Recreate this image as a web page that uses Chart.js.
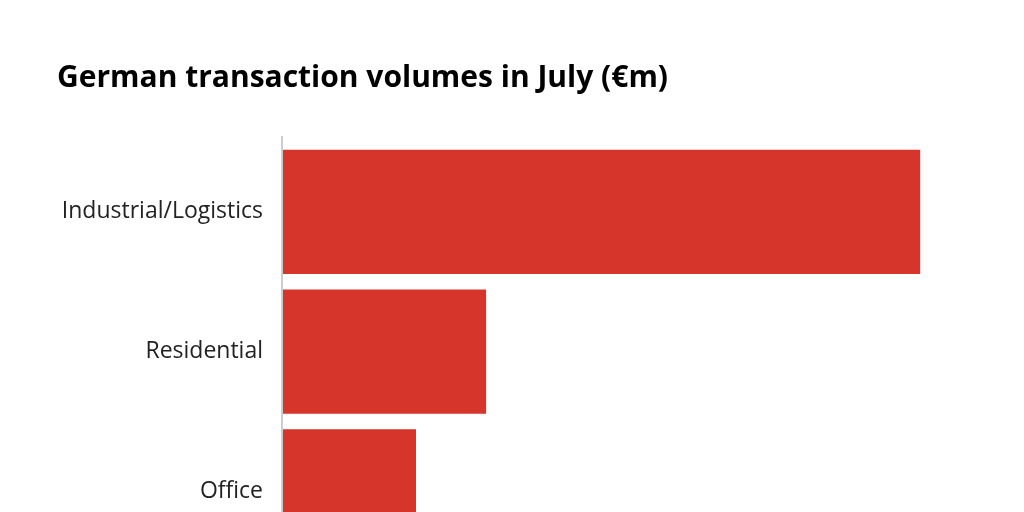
<!DOCTYPE html>
<html>
<head>
<meta charset="utf-8">
<script src="https://cdn.jsdelivr.net/npm/chart.js@4"></script>
<style>
  html, body { margin: 0; padding: 0; background: #fff; overflow: hidden; }
</style>
</head>
<body>
<canvas id="chart-area" width="1024" height="595"></canvas>
<script>
/*
 * 数据：德国七月交易量（百万欧元），数值按图中条形长度估读。
 */
var categories = ["Industrial/Logistics", "Residential", "Office"];
var volumes = [1600, 510, 334];
var axisMax = 1700;
var titleText = "German transaction volumes in July (€m)";

/*
 * 左侧竖线，比绘图区略高一点。
 */
var axisLinePlugin = {
	id : 'axisLine',
	afterDatasetsDraw : function(chart) {
		var ctx = chart.ctx;
		var area = chart.chartArea;
		ctx.save();
		ctx.strokeStyle = '#cccccc';
		ctx.lineWidth = 2;
		ctx.beginPath();
		ctx.moveTo(area.left - 1, area.top - 6);
		ctx.lineTo(area.left - 1, area.bottom);
		ctx.stroke();
		ctx.restore();
	}
};

var config = {
	type : 'bar',
	data : {
		labels : categories,
		datasets : [ {
			data : volumes,
			backgroundColor : "#d5352a",
			borderWidth : 0,
			categoryPercentage : 1,
			barPercentage : 0.89
		} ]
	},
	options : {
		indexAxis : 'y',
		responsive : false,
		animation : false,
		layout : {
			padding : { left : 57, right : 64, top : 0, bottom : 0 }
		},
		plugins : {
			legend : { display : false },
			tooltip : { enabled : false },
			title : {
				display : true,
				text : titleText,
				align : 'start',
				color : '#000',
				font : { family : 'Open Sans', size : 30, weight : 'bold' },
				padding : { top : 60, bottom : 46 }
			}
		},
		scales : {
			x : {
				display : false,
				min : 0,
				max : axisMax
			},
			y : {
				grid : { display : false, drawTicks : false },
				border : { display : false },
				ticks : {
					color : '#222',
					padding : 20,
					font : { family : 'Open Sans', size : 23 }
				},
				afterFit : function(scale) {
					scale.width = 226;
				}
			}
		}
	},
	plugins : [ axisLinePlugin ]
};

window.onload = function() {
	var ctx = document.getElementById('chart-area').getContext('2d');
	window.myBar = new Chart(ctx, config);
};
</script>
</body>
</html>
